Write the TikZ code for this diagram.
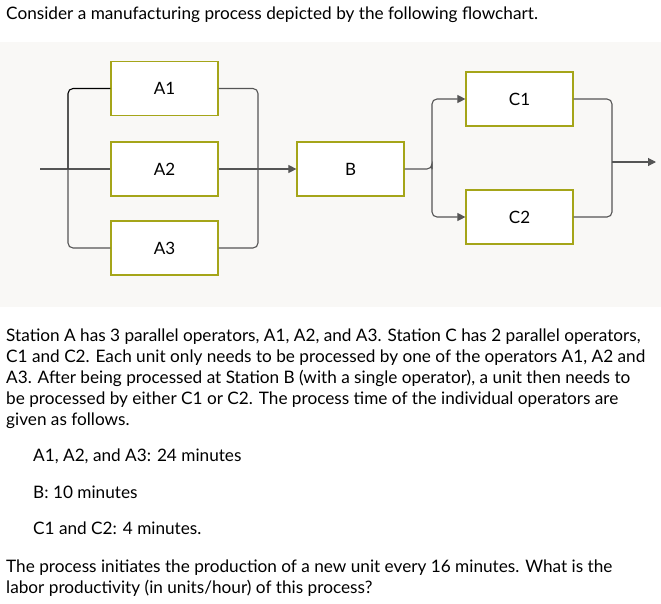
\documentclass[tikz,border=0pt]{standalone}
\usepackage{fontspec}
\setmainfont{Lato}
\usetikzlibrary{arrows.meta}
\definecolor{boxc}{RGB}{165,165,25}
\definecolor{linec}{RGB}{85,85,85}
\definecolor{panel}{RGB}{249,248,246}
\begin{document}
\begin{tikzpicture}[x=1pt,y=-1pt,
  box/.style={draw=boxc,line width=1.2pt,fill=white,minimum width=107pt,minimum height=54pt,font=\fontsize{17}{20}\selectfont,inner sep=0},
  conn/.style={draw=linec,line width=1.1pt,rounded corners=5pt},
  arr/.style={conn,-{Triangle[length=8pt,width=8pt]}},
  txt/.style={anchor=base west,inner sep=0,font=\fontsize{17.2}{20}\selectfont}]
\useasboundingbox (0,0) rectangle (661,603);
\fill[white] (0,0) rectangle (661,603);
\fill[panel] (0,42) rectangle (661,307);
\node[box] (A1) at (164.5,88.5) {A1};
\node[box] (A2) at (164.5,169) {A2};
\node[box] (A3) at (164.5,248) {A3};
\node[box] (B) at (350.5,169) {B};
\node[box] (C1) at (519.5,99) {C1};
\node[box] (C2) at (519.5,217) {C2};
\coordinate (in) at (40,169);
\coordinate (out) at (656,162);
\draw[conn] (in) -- (A2.west);
\draw[conn,draw=black] (A1.west) -| (68,169);
\draw[conn] (68,160) |- (A3.west);
\draw[conn] (A1.east) -| (258,169);
\draw[conn] (A3.east) -| (258,169);
\draw[arr] (A2.east) -- (B.west);
\draw[conn] (B.east) -| (432,169);
\draw[arr] (432,169) |- (C1.west);
\draw[arr] (432,169) |- (C2.west);
\draw[conn] (C1.east) -| (612,162);
\draw[conn] (C2.east) -| (612,162);
\draw[arr] (612,162) -- (out);
\node[txt] (t0) at (6,19) {Consider a manufacturing process depicted by the following flowchart.};
\node[txt] (t1) at (6,341) {Station A has 3 parallel operators, A1, A2, and A3. Station C has 2 parallel operators,};
\node[txt] (t2) at (6,362) {C1 and C2. Each unit only needs to be processed by one of the operators A1, A2 and};
\node[txt] (t3) at (6,383) {A3. After being processed at Station B (with a single operator), a unit then needs to};
\node[txt] (t4) at (6,404) {be processed by either C1 or C2. The process time of the individual operators are};
\node[txt] (t5) at (6,425) {given as follows.};
\node[txt] (t6) at (33,461) {A1, A2, and A3: 24 minutes};
\node[txt] (t7) at (33,498) {B: 10 minutes};
\node[txt] (t8) at (33,534) {C1 and C2: 4 minutes.};
\node[txt] (t9) at (6,572) {The process initiates the production of a new unit every 16 minutes. What is the};
\node[txt] (t10) at (6,593) {labor productivity (in units/hour) of this process?};
\end{tikzpicture}
\end{document}
